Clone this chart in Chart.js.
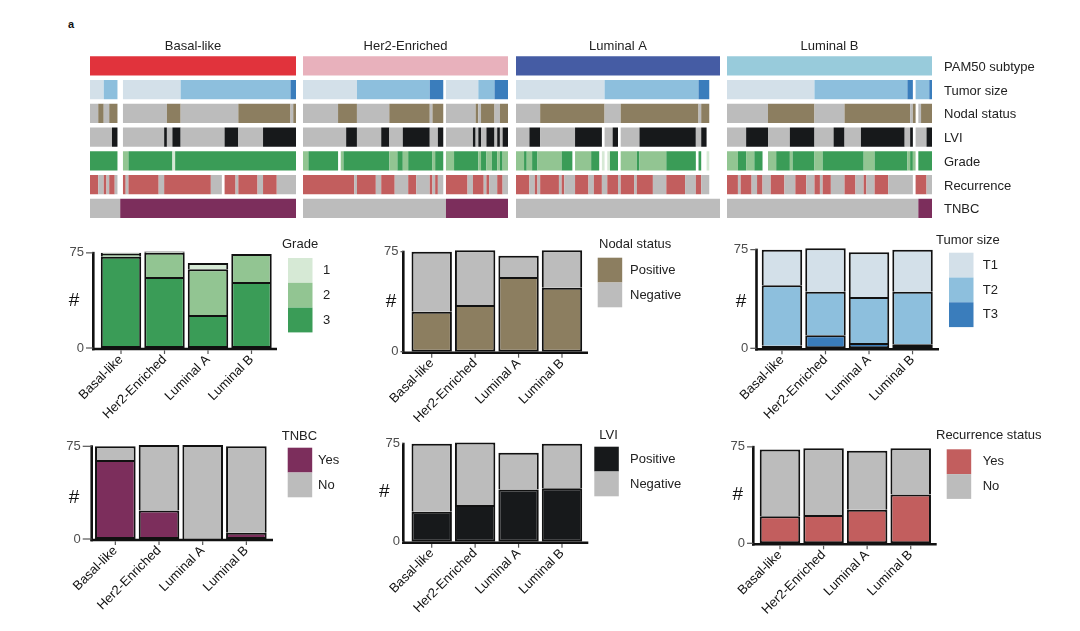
<!DOCTYPE html>
<html>
<head>
<meta charset="utf-8">
<script src="https://cdn.jsdelivr.net/npm/chart.js@4.4.1/dist/chart.umd.min.js"></script>
<style>
  body { margin: 0; background: #fff; }
  #wrap { position: relative; width: 1080px; height: 631px; overflow: hidden; }
  #wrap canvas { position: absolute; }
  #tag { position: absolute; left: 68px; top: 18px; font: bold 11px 'Liberation Sans', Arial, sans-serif; color: #111; }
</style>
</head>
<body>
<div id="wrap">
  <div id="tag">a</div>
  <canvas id="hm0"></canvas><canvas id="hm1"></canvas><canvas id="hm2"></canvas><canvas id="hm3"></canvas>
  <canvas id="gradeChart"></canvas><canvas id="nodalChart"></canvas><canvas id="tumorChart"></canvas>
  <canvas id="tnbcChart"></canvas><canvas id="lviChart"></canvas><canvas id="recChart"></canvas>
</div>
<script>
// ---- data ----
const subtypes = ['Basal-like', 'Her2-Enriched', 'Luminal A', 'Luminal B'];
const trackNames = ['PAM50 subtype', 'Tumor size', 'Nodal status', 'LVI', 'Grade', 'Recurrence', 'TNBC'];
const tickValues = [0, 75];

// stacked counts per subtype
const gradeG3 = [72, 56, 26, 52];
const gradeG2 = [2, 19, 36, 22];
const gradeG1 = [1, 1, 5, 0];
const nodalPos = [30, 35, 56, 48];
const nodalNeg = [45, 41, 16, 28];
const tumorT3 = [2, 10, 4, 3];
const tumorT2 = [46, 33, 35, 40];
const tumorT1 = [27, 33, 34, 32];
const tnbcYes = [64, 23, 0, 5];
const tnbcNo = [11, 53, 76, 70];
const lviPos = [23, 28, 40, 41];
const lviNeg = [52, 48, 28, 34];
const recYes = [21, 22, 26, 38];
const recNo = [52, 52, 46, 36];

// annotation tracks, run lengths: [code, number of samples], code 0 = missing
// tumor 1=T1 2=T2 3=T3 | nodal/LVI 1=Positive 2=Negative | grade 1..3 | recurrence/TNBC 1=Yes 2=No
const basalTumor = [[1,5],[2,5],[0,2],[1,21],[2,40],[3,2]];
const basalNodal = [[2,3],[1,2],[2,2],[1,3],[0,2],[2,16],[1,5],[2,21],[1,19],[2,1],[1,1]];
const basalLvi = [[2,8],[1,2],[0,2],[2,15],[1,1],[2,2],[1,3],[2,16],[1,5],[2,9],[1,12]];
const basalGrade = [[3,10],[0,2],[2,2],[3,16],[1,1],[3,44]];
const basalRec = [[1,3],[2,2],[1,1],[2,1],[1,2],[2,1],[0,2],[1,1],[2,1],[1,11],[2,2],[1,17],[2,4],[0,1],[1,4],[2,1],[1,7],[2,2],[1,5],[2,7]];
const basalTnbc = [[2,11],[1,64]];

const her2Tumor = [[1,20],[2,27],[3,5],[0,1],[1,12],[2,6],[3,5]];
const her2Nodal = [[2,13],[1,7],[2,12],[1,15],[2,1],[1,4],[0,1],[2,11],[1,1],[2,1],[1,5],[2,2],[1,3]];
const her2Lvi = [[2,16],[1,4],[2,9],[1,3],[2,5],[1,10],[2,3],[1,2],[0,1],[2,10],[1,1],[2,1],[1,1],[2,2],[1,3],[2,1],[1,1],[2,1],[1,2]];
const her2Grade = [[2,2],[3,11],[0,1],[2,1],[3,17],[2,3],[3,2],[2,2],[3,9],[2,1],[3,3],[0,1],[2,3],[3,9],[2,1],[3,2],[2,2],[3,2],[2,1],[3,1],[2,2]];
const her2Rec = [[1,19],[2,1],[1,7],[2,2],[1,5],[2,5],[1,3],[2,5],[1,1],[2,1],[1,1],[2,2],[0,1],[1,8],[2,2],[1,4],[2,1],[1,1],[2,3],[1,2],[2,2]];
const her2Tnbc = [[2,53],[1,23]];

const lumaTumor = [[1,33],[2,35],[3,4],[0,4]];
const lumaNodal = [[2,9],[1,24],[2,6],[1,29],[2,1],[1,3],[0,4]];
const lumaLvi = [[2,5],[1,4],[2,13],[1,10],[0,1],[2,3],[1,2],[0,1],[2,7],[1,21],[2,2],[1,2],[0,5]];
const lumaGrade = [[2,3],[3,1],[2,2],[3,2],[2,9],[3,4],[0,1],[2,6],[3,3],[0,1],[1,1],[0,1],[1,1],[3,3],[0,1],[2,6],[3,1],[2,10],[3,11],[0,1],[3,1],[0,2],[1,1],[0,4]];
const lumaRec = [[1,5],[2,2],[1,1],[2,1],[1,7],[2,1],[1,1],[2,4],[1,5],[2,2],[1,3],[2,2],[1,4],[2,1],[1,5],[2,1],[1,6],[2,5],[1,7],[2,4],[1,2],[2,3],[0,4]];
const lumaTnbc = [[2,76]];

const lumbTumor = [[1,32],[2,34],[3,2],[0,1],[2,5],[3,1]];
const lumbNodal = [[2,15],[1,17],[2,11],[1,24],[2,1],[1,1],[0,1],[2,1],[1,4]];
const lumbLvi = [[2,7],[1,8],[2,8],[1,9],[2,7],[1,4],[2,6],[1,16],[2,2],[1,1],[0,1],[2,4],[1,2]];
const lumbGrade = [[2,4],[3,3],[2,3],[3,3],[0,2],[2,3],[3,5],[2,1],[3,8],[2,3],[3,15],[2,4],[3,12],[2,1],[3,1],[2,1],[0,1],[3,5]];
const lumbRec = [[1,4],[2,1],[1,4],[2,2],[1,2],[2,3],[1,5],[2,4],[1,4],[2,3],[1,2],[2,1],[1,3],[2,5],[1,4],[2,3],[1,1],[2,3],[1,5],[2,9],[0,1],[1,4],[2,2]];
const lumbTnbc = [[2,70],[1,5]];

// ---- colours ----
const pam50Colors = ['#e1333c', '#e8b1bc', '#455ca4', '#98cbdb'];
const tumorColors = [null, '#d3e0e9', '#8dbfdd', '#3a7dbc'];
const nodalColors = [null, '#8c7e60', '#bcbcbc'];
const lviColors = [null, '#17191b', '#bcbcbc'];
const gradeColors = [null, '#d6e9d5', '#92c592', '#3a9c57'];
const recColors = [null, '#c25e5e', '#bcbcbc'];
const tnbcColors = [null, '#7c2e5c', '#bcbcbc'];

const FONT = "'Liberation Sans', Arial, sans-serif";
Chart.defaults.font.family = FONT;

// "#" label, axis lines and tick marks drawn a few px left of the bars
const framePlugin = {
    id: 'frame',
    afterDraw(chart, args, o) {
        if (!o || o.axisX === undefined) return;
        const ctx = chart.ctx, x = chart.scales.x, y = chart.scales.y;
        const ax = o.axisX - o.cl;
        const y0 = y.getPixelForValue(0), y75 = y.getPixelForValue(75);
        ctx.save();
        ctx.strokeStyle = '#111';
        ctx.lineWidth = 2.6;
        ctx.beginPath(); ctx.moveTo(ax, y75 - 1); ctx.lineTo(ax, y0 + 2.3); ctx.stroke();
        ctx.beginPath(); ctx.moveTo(ax - 1.3, y0 + 1); ctx.lineTo(o.xEnd - o.cl, y0 + 1); ctx.stroke();
        ctx.lineWidth = 1.2;
        ctx.strokeStyle = '#555';
        [y0, y75].forEach(py => {
            ctx.beginPath(); ctx.moveTo(o.labelRight - o.cl + 2, py); ctx.lineTo(ax, py); ctx.stroke();
        });
        x.ticks.forEach((t, i) => {
            const px = x.getPixelForTick(i);
            ctx.beginPath(); ctx.moveTo(px, y0 + 2.3); ctx.lineTo(px, y0 + 6); ctx.stroke();
        });
        ctx.fillStyle = '#111';
        ctx.font = '19px ' + FONT;
        ctx.textAlign = 'center';
        ctx.textBaseline = 'middle';
        ctx.fillText('#', o.hashX - o.cl, o.hashY - o.ct);
        ctx.restore();
    }
};

// legend with touching swatches
const keyPlugin = {
    id: 'key',
    afterDraw(chart, args, o) {
        if (!o || !o.items) return;
        const ctx = chart.ctx;
        ctx.save();
        ctx.font = '13px ' + FONT;
        ctx.textAlign = 'left';
        ctx.textBaseline = 'middle';
        ctx.fillStyle = '#222';
        ctx.fillText(o.title, o.tx - o.cl, o.ty - o.ct);
        o.items.forEach((it, i) => {
            const top = o.sy - o.ct + i * 24.8;
            ctx.fillStyle = it.color;
            ctx.fillRect(o.sx - o.cl, top, 24.5, 24.8);
            ctx.fillStyle = '#222';
            ctx.fillText(it.label, o.lx - o.cl, top + 12.6);
        });
        ctx.restore();
    }
};

const panelTitle = {
    id: 'panelTitle',
    afterDraw(chart, args, o) {
        if (!o || !o.text) return;
        const ctx = chart.ctx, ca = chart.chartArea;
        ctx.save();
        ctx.font = '13px ' + FONT;
        ctx.fillStyle = '#222';
        ctx.textAlign = 'center';
        ctx.textBaseline = 'middle';
        ctx.fillText(o.text, (ca.left + ca.right) / 2, ca.top - 8);
        ctx.restore();
    }
};

Chart.register(framePlugin, keyPlugin, panelTitle);

// ---- annotation heatmap ----
const trackColors = [tumorColors, nodalColors, lviColors, gradeColors, recColors, tnbcColors];
const subtypeTracks = [
    [basalTumor, basalNodal, basalLvi, basalGrade, basalRec, basalTnbc],
    [her2Tumor, her2Nodal, her2Lvi, her2Grade, her2Rec, her2Tnbc],
    [lumaTumor, lumaNodal, lumaLvi, lumaGrade, lumaRec, lumaTnbc],
    [lumbTumor, lumbNodal, lumbLvi, lumbGrade, lumbRec, lumbTnbc]
];
const panelX = [[90, 296], [303, 508], [516, 720], [727, 932]];

function heatmapChart(idx) {
    const cv = document.getElementById('hm' + idx);
    const withLabels = idx === 3;
    const left = panelX[idx][0], right = panelX[idx][1];
    const w = withLabels ? 1080 - left : right - left;
    cv.width = w; cv.height = 197;
    cv.style.left = left + 'px'; cv.style.top = '24px';

    const tracks = subtypeTracks[idx];
    const n = tracks[tracks.length - 1].reduce((a, r) => a + r[1], 0);
    const segs = [{ x: [0, n], y: trackNames[0] }];
    const cols = [pam50Colors[idx]];
    tracks.forEach((runs, r) => {
        let s = 0;
        runs.forEach(([code, len]) => {
            if (code) {
                segs.push({ x: [s, s + len], y: trackNames[r + 1] });
                cols.push(trackColors[r][code]);
            }
            s += len;
        });
    });

    new Chart(cv, {
        type: 'bar',
        data: {
            labels: trackNames,
            datasets: [{ data: segs, backgroundColor: cols, barPercentage: 1, categoryPercentage: 0.82, grouped: false }]
        },
        options: {
            indexAxis: 'y',
            responsive: false,
            animation: false,
            layout: { padding: { top: 30, bottom: 0.75, left: 0, right: 0 } },
            scales: {
                x: { type: 'linear', min: 0, max: n, display: false },
                y: {
                    display: withLabels,
                    position: 'right',
                    grid: { display: false, drawTicks: false },
                    border: { display: false },
                    ticks: { padding: 12, labelOffset: 1.5, color: '#222', font: { size: 13 } },
                    afterFit: s => {
                        s.width = withLabels ? 1080 - right : 0;
                        s.paddingTop = 0;
                        s.paddingBottom = 0;
                    }
                }
            },
            plugins: {
                legend: { display: false },
                tooltip: { enabled: false },
                panelTitle: { text: subtypes[idx] }
            }
        }
    });
}

// ---- stacked bar panels ----
function stackChart(id, box, series, key) {
    const cv = document.getElementById(id);
    cv.width = box.cr - box.cl; cv.height = box.cb - box.ct;
    cv.style.left = box.cl + 'px'; cv.style.top = box.ct + 'px';
    const chartTop = box.y0 - (box.y0 - box.y75) * 78 / 75;

    new Chart(cv, {
        type: 'bar',
        data: {
            labels: subtypes,
            datasets: series.map((s, i) => ({
                label: s.label,
                data: s.data,
                backgroundColor: s.color,
                borderColor: '#111',
                borderWidth: 2,
                borderSkipped: i === 0 ? false : 'bottom',
                categoryPercentage: 0.93,
                barPercentage: 1
            }))
        },
        options: {
            responsive: false,
            animation: false,
            layout: { padding: { top: chartTop - box.ct, right: box.cr - box.right, left: 0, bottom: 0 } },
            scales: {
                x: {
                    stacked: true,
                    grid: { display: false, drawTicks: false },
                    border: { display: false },
                    ticks: { maxRotation: 45, minRotation: 45, autoSkip: false, padding: 4, color: '#111', font: { size: 13 } },
                    afterFit: s => { s.height = box.cb - box.y0; }
                },
                y: {
                    stacked: true, min: 0, max: 78,
                    grid: { display: false, drawTicks: false },
                    border: { display: false },
                    afterBuildTicks: s => { s.ticks = tickValues.map(v => ({ value: v })); },
                    ticks: { padding: box.left - box.labelRight, color: '#4d4d4d', font: { size: 13 } },
                    afterFit: s => { s.width = box.left - box.cl; }
                }
            },
            plugins: {
                legend: { display: false },
                tooltip: { enabled: false },
                frame: box,
                key: Object.assign({ cl: box.cl, ct: box.ct }, key)
            }
        }
    });
}

const topRow = { ct: 226, cb: 422 };
const botRow = { ct: 422, cb: 631 };

stackChart('gradeChart',
    Object.assign({ cl: 40, cr: 355, left: 99.25, right: 273.25, y0: 348, y75: 248, axisX: 93.3, labelRight: 84, hashX: 74, hashY: 301, xEnd: 277 }, topRow),
    [{ label: '3', data: gradeG3, color: gradeColors[3] }, { label: '2', data: gradeG2, color: gradeColors[2] }, { label: '1', data: gradeG1, color: gradeColors[1] }],
    { title: 'Grade', tx: 282, ty: 244, sx: 288, sy: 258, lx: 323,
      items: [{ label: '1', color: gradeColors[1] }, { label: '2', color: gradeColors[2] }, { label: '3', color: gradeColors[3] }] });

stackChart('nodalChart',
    Object.assign({ cl: 355, cr: 695, left: 410, right: 583.7, y0: 351.7, y75: 251.7, axisX: 403.3, labelRight: 398.5, hashX: 391, hashY: 301.7, xEnd: 588 }, topRow),
    [{ label: 'Positive', data: nodalPos, color: nodalColors[1] }, { label: 'Negative', data: nodalNeg, color: nodalColors[2] }],
    { title: 'Nodal status', tx: 599, ty: 244, sx: 597.7, sy: 257.7, lx: 630,
      items: [{ label: 'Positive', color: nodalColors[1] }, { label: 'Negative', color: nodalColors[2] }] });

stackChart('tumorChart',
    Object.assign({ cl: 695, cr: 1080, left: 760.2, right: 934.3, y0: 348.3, y75: 247.7, axisX: 756.5, labelRight: 748.3, hashX: 741, hashY: 301.7, xEnd: 939 }, topRow),
    [{ label: 'T3', data: tumorT3, color: tumorColors[3] }, { label: 'T2', data: tumorT2, color: tumorColors[2] }, { label: 'T1', data: tumorT1, color: tumorColors[1] }],
    { title: 'Tumor size', tx: 936, ty: 240, sx: 949, sy: 252.7, lx: 982.7,
      items: [{ label: 'T1', color: tumorColors[1] }, { label: 'T2', color: tumorColors[2] }, { label: 'T3', color: tumorColors[3] }] });

stackChart('tnbcChart',
    Object.assign({ cl: 40, cr: 355, left: 93.5, right: 268.2, y0: 539, y75: 438.3, axisX: 91.7, labelRight: 80.7, hashX: 74, hashY: 498, xEnd: 273 }, botRow),
    [{ label: 'Yes', data: tnbcYes, color: tnbcColors[1] }, { label: 'No', data: tnbcNo, color: tnbcColors[2] }],
    { title: 'TNBC', tx: 281.7, ty: 436.7, sx: 287.7, sy: 447.7, lx: 318,
      items: [{ label: 'Yes', color: tnbcColors[1] }, { label: 'No', color: tnbcColors[2] }] });

stackChart('lviChart',
    Object.assign({ cl: 355, cr: 695, left: 410, right: 583.7, y0: 541.7, y75: 440, axisX: 403.3, labelRight: 400, hashX: 384.3, hashY: 491.7, xEnd: 588.3 }, botRow),
    [{ label: 'Positive', data: lviPos, color: lviColors[1] }, { label: 'Negative', data: lviNeg, color: lviColors[2] }],
    { title: 'LVI', tx: 599.3, ty: 435, sx: 594.3, sy: 446.7, lx: 630,
      items: [{ label: 'Positive', color: lviColors[1] }, { label: 'Negative', color: lviColors[2] }] });

stackChart('recChart',
    Object.assign({ cl: 695, cr: 1080, left: 758.2, right: 932.5, y0: 543.3, y75: 442.7, axisX: 753.3, labelRight: 745, hashX: 737.7, hashY: 495, xEnd: 936.7 }, botRow),
    [{ label: 'Yes', data: recYes, color: recColors[1] }, { label: 'No', data: recNo, color: recColors[2] }],
    { title: 'Recurrence status', tx: 936, ty: 435, sx: 946.7, sy: 449.3, lx: 982.7,
      items: [{ label: 'Yes', color: recColors[1] }, { label: 'No', color: recColors[2] }] });

[0, 1, 2, 3].forEach(heatmapChart);
</script>
</body>
</html>
